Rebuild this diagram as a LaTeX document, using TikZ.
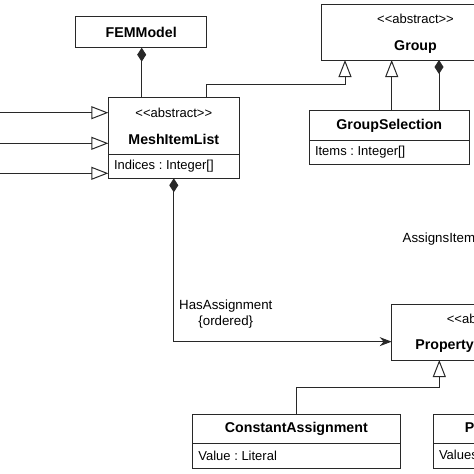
\documentclass[tikz,border=0pt]{standalone}
\usepackage{fontspec}
\setmainfont{Liberation Sans}
\usetikzlibrary{arrows.meta,positioning}
\definecolor{umlline}{RGB}{40, 40, 40}
\newcommand{\umlstereo}[1]{<\kern0pt<#1>\kern0pt>}
\frenchspacing

\tikzset{
  classbox/.style={draw=umlline, line width=1pt, inner sep=0pt, outer sep=0pt, minimum width=#1},
  classname/.style={font=\fontsize{14.2}{16}\selectfont\bfseries, inner sep=0pt},
  stereo/.style={font=\fontsize{13}{15}\selectfont, inner sep=0pt},
  attr/.style={font=\fontsize{13}{15}\selectfont, inner sep=0pt, anchor=west},
  lbl/.style={font=\fontsize{13.3}{15.7}\selectfont, inner sep=0pt, align=center},
  link/.style={draw=umlline, line width=1pt},
  gen/.style={link, -{Triangle[open, length=17pt, width=13pt]}},
  comp/.style={link, {Diamond[length=14pt, width=9pt]}-},
  compassoc/.style={link, {Diamond[length=14pt, width=9pt]}-{Stealth[length=12pt, width=9pt]}}
}

\begin{document}
\begin{tikzpicture}[x=1pt, y=-1pt]
            \useasboundingbox (0,0) rectangle (474,474);
            \clip (0,0) rectangle (474,474);
            % classes
            \node[classbox=131pt, minimum height=31pt]   (fem)      at (141.2, 32.2)  {};
            \node[classname]                             (femname)  at (fem.center)   {FEMModel};
            \node[classbox=131pt, minimum height=56.3pt] (mesh)     at (173.8,125.85) {};
            \node[classbox=131pt, minimum height=24.3pt, below=0pt of mesh] (meshattr) {};
            \node[stereo]                                (meshst)   at (173.8,112.7)  {\umlstereo{abstract}};
            \node[classname]                             (meshname) at (173.8,139.3)  {MeshItemList};
            \node[attr]                                  (meshidx)  at ([xshift=5.5pt]meshattr.west) {Indices : Integer[]};
            \node[classbox=189pt, minimum height=56pt]   (group)    at (415.5, 32.0)  {};
            \node[stereo]                                (groupst)  at (415.5, 19.3)  {\umlstereo{abstract}};
            \node[classname]                             (groupname) at (415.5, 46.7) {Group};
            \node[classbox=160pt, minimum height=30.7pt] (gsel)     at (389.3,125.35) {};
            \node[classbox=160pt, minimum height=23.6pt, below=0pt of gsel] (gselattr) {};
            \node[classname]                             (gselname) at (gsel.center)  {GroupSelection};
            \node[attr]                                  (gselitems) at ([xshift=5.5pt]gselattr.west) {Items : Integer[]};
            \node[classbox=187pt, minimum height=55.7pt] (prop)     at (485.2,332.15) {};
            \node[stereo]                                (propst)   at (485.2,319.0)  {\umlstereo{abstract}};
            \node[classname]                             (propname) at (485.2,345.7)  {PropertyAssignment};
            \node[classbox=207.3pt, minimum height=29pt] (ca)       at (296.35,428.8) {};
            \node[classbox=207.3pt, minimum height=25pt, below=0pt of ca] (caattr) {};
            \node[classname]                             (caname)   at (ca.center)    {ConstantAssignment};
            \node[attr]                                  (caval)    at ([xshift=5.5pt]caattr.west) {Value : Literal};
            \node[classbox=212.4pt, minimum height=29pt] (pa)       at (539.5,428.8)  {};
            \node[classbox=212.4pt, minimum height=25pt, below=0pt of pa] (paattr) {};
            \node[classname]                             (paname)   at (pa.center)    {PiecewiseAssignment};
            \node[attr]                                  (paval)    at ([xshift=5.5pt]paattr.west) {Values : Literal[]};
            % labels
            \node[lbl]                                   (hasasg)   at (225.8,313.8)  {HasAssignment\\\{ordered\}};
            \node[lbl, anchor=west]                      (asgitems) at (402.5,239.0)  {AssignsItems};
            % connectors
            \coordinate (lead1) at (-10,112.7);
            \coordinate (lead2) at (-10,143.3);
            \coordinate (lead3) at (-10,173.3);
            \draw[gen]       (lead1) -- (lead1 -| mesh.west);
            \draw[gen]       (lead2) -- (lead2 -| mesh.west);
            \draw[gen]       (lead3) -- (lead3 -| mesh.west);
            \draw[comp]      ([xshift=0.5pt]fem.south) -- ([xshift=0.5pt]fem.south |- mesh.north);
            \draw[gen]       ([xshift=-32.6pt]mesh.north east) -- ++(0,-13.4) -| ([xshift=24pt]group.south west);
            \draw[gen]       ([xshift=82.4pt]gsel.north west) -- ([xshift=82.4pt]gsel.north west |- group.south);
            \draw[comp]      ([xshift=129.7pt]gsel.north west |- group.south) -- ([xshift=129.7pt]gsel.north west);
            \draw[compassoc] (meshattr.south) |- ([yshift=-9.5pt]prop.west);
            \draw[gen]       (ca.north) -- ++(0,-27) -| ([xshift=47.6pt]prop.south west);
            \end{tikzpicture}
\end{document}
